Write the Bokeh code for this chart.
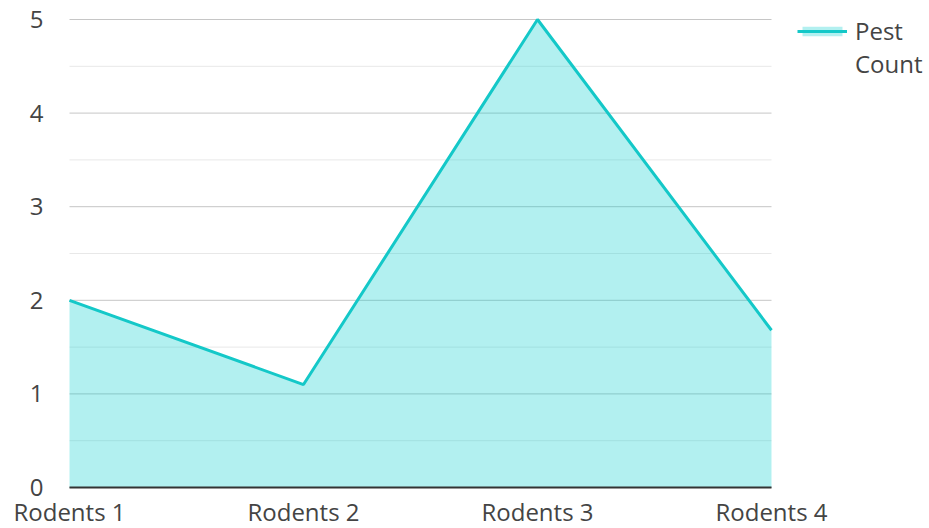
from bokeh.plotting import figure
from bokeh.models import Range1d, Legend, LegendItem, LabelSet, ColumnDataSource
from bokeh.core.properties import value
from bokeh.embed import file_html
from bokeh.resources import INLINE

categories = ["Rodents 1", "Rodents 2", "Rodents 3", "Rodents 4"]
pest_count = [2.0, 1.1, 5.0, 1.68]
y_ticks = [0, 1, 2, 3, 4, 5]
y_minor = [0.5, 1.5, 2.5, 3.5, 4.5]
legend_lines = ["Pest", "Count"]

xs = list(range(len(categories)))
font = value("Open Sans")
text_color = "#444444"

# layout geometry (pixels)
W, H = 929, 528
left, plot_top, plot_bottom, plot_right = 69, 19, 487, 771
px_x = (len(xs) - 1) / (plot_right - left)
px_y = (y_ticks[-1] - y_ticks[0]) / (plot_bottom - plot_top)

p = figure(width=W, height=H, output_backend="svg", toolbar_location=None,
           x_axis_location=None, y_axis_location=None,
           x_range=Range1d(-left * px_x, (W - left) * px_x),
           y_range=Range1d(-(H - plot_bottom) * px_y, y_ticks[-1] + plot_top * px_y),
           min_border=0)
p.outline_line_color = None
p.background_fill_color = "white"
p.xgrid.grid_line_color = None
p.ygrid.grid_line_color = None

# horizontal grid lines limited to the data extent
p.segment(x0=[xs[0]] * len(y_minor), x1=[xs[-1]] * len(y_minor), y0=y_minor, y1=y_minor,
          line_color="#e8e8e8", line_width=1)
p.segment(x0=[xs[0]] * len(y_ticks), x1=[xs[-1]] * len(y_ticks), y0=y_ticks, y1=y_ticks,
          line_color="#c6c6c6", line_width=1)

area = p.varea(x=xs, y1=[0] * len(xs), y2=pest_count, fill_color="#00cccc", fill_alpha=0.3)
line = p.line(x=xs, y=pest_count, line_color="#14c8c8", line_width=3)

# baseline (x axis line)
p.line(x=[xs[0], xs[-1]], y=[y_ticks[0], y_ticks[0]], line_color="#333333", line_width=2)

# category labels under the baseline
xlabels = LabelSet(source=ColumnDataSource(dict(x=xs, y=[y_ticks[0]] * len(xs), t=categories)),
                   x="x", y="y", text="t", y_offset=-24, text_align="center",
                   text_baseline="middle", text_font=font, text_font_size="24px",
                   text_color=text_color)
p.add_layout(xlabels)

# value tick labels left of the plot
ylabels = LabelSet(source=ColumnDataSource(dict(x=[xs[0]] * len(y_ticks), y=y_ticks,
                                                t=[str(v) for v in y_ticks])),
                   x="x", y="y", text="t", x_offset=-26, text_align="right",
                   text_baseline="middle", text_font=font, text_font_size="24px",
                   text_color=text_color)
p.add_layout(ylabels)

legend = Legend(items=[LegendItem(label=legend_lines[0], renderers=[area, line]),
                       LegendItem(label=legend_lines[1], renderers=[])],
                location=(797, 448), border_line_color=None, background_fill_alpha=0,
                label_text_font="Open Sans", label_text_font_size="24px",
                label_text_color=text_color,
                glyph_width=50, glyph_height=12, margin=0, padding=0, spacing=0,
                label_standoff=8, label_height=24)
p.add_layout(legend, "center")

open("out.html", "w").write(file_html(p, INLINE))
